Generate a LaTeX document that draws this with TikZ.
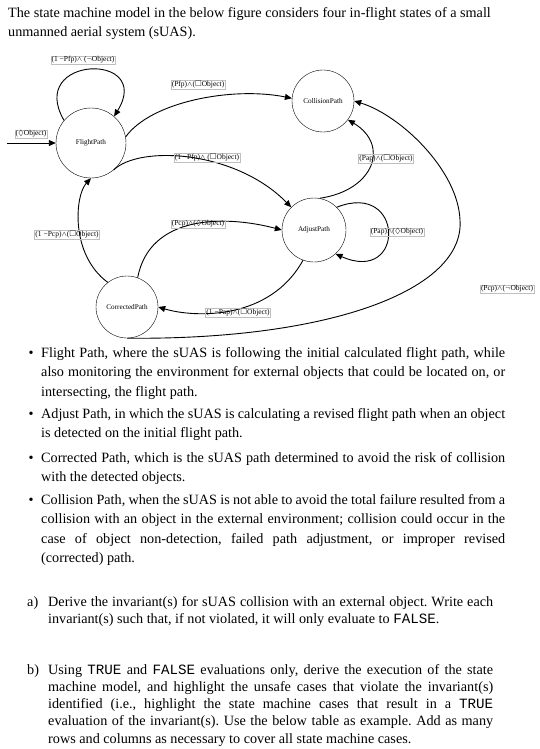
\documentclass[tikz,border=0pt]{standalone}
\usepackage{fontspec}
\usepackage{amssymb}
\setmainfont{Liberation Serif}
\setmonofont{Liberation Mono}
\usetikzlibrary{arrows.meta}
\frenchspacing

\tikzset{
	state/.style={draw, circle, line width=0.4pt, minimum size=63pt, inner sep=0pt, font=\fontsize{7.2}{8}\selectfont},
	trans/.style={line width=0.9pt, -{Triangle[length=7pt, width=6pt]}},
	cond/.style={draw=black!25, line width=0.3pt, inner sep=0.8pt, font=\fontsize{7.5}{8}\selectfont},
	para/.style={anchor=north west, inner sep=0pt, align=justify, font=\fontsize{14.2}{19.2}\selectfont},
	task/.style={anchor=north west, inner sep=0pt, align=justify, text width=445pt, font=\fontsize{14.2}{17.2}\selectfont},
}

\begin{document}
\begin{tikzpicture}[x=1pt, y=-1pt]
	\useasboundingbox (0,0) rectangle (540,749);

	% intro
	\node[para, align=left] (intro) at (8,7) {The state machine model in the below figure considers four in-flight states of a small\\unmanned aerial system (sUAS).};

	% states
	\node[state, minimum size=70pt] (fp) at (91,143) {FlightPath};
	\node[state, minimum size=62pt] (col) at (323,101) {CollisionPath};
	\node[state, minimum size=64pt] (adj) at (314,230) {AdjustPath};
	\node[state, minimum size=62pt] (cor) at (127,307) {CorrectedPath};
	\coordinate (entry) at (7,143);
	\coordinate (bend) at (460,220);

	% transitions
	\draw[trans] (entry) -- (fp.west);
	\draw[trans] (fp.140) .. controls +(-38,-65) and +(40,-65) .. (fp.49);
	\draw[trans] (fp.10) .. controls +(25,-35) and +(-60,-12) .. (col.175);
	\draw[trans] (fp.-50) .. controls +(26,-25) and +(-56,-57) .. (adj.135);
	\draw[trans] (adj.80) .. controls +(55,-8) and +(42,25) .. (col.-37);
	\draw[trans] (adj.45) .. controls +(68,-27) and +(70,31) .. (adj.-48);
	\draw[trans] (cor.70) .. controls +(12,-63) and +(-57,-15) .. (adj.180);
	\draw[trans] (cor.128) .. controls +(-38,-28) and +(-16,17) .. (fp.south);
	\draw[trans] (adj.-110) .. controls +(-33,60) and +(37,11) .. (cor.east);
	\draw[trans] (cor.south) .. controls +(203,2) and +(5,70) .. (bend)
		.. controls +(-2,-50) and +(46,14) .. (col.east);

	% conditions
	\node[cond] (c-fpfp) at (83,60) {(1 −Pfp)$\wedge$ ($\neg$Object)};
	\node[cond] (c-init) at (31,134) {($\lozenge$Object)};
	\node[cond] (c-fpcol) at (198,85) {(Pfp)$\wedge$($\square$Object)};
	\node[cond] (c-fpadj) at (207,158) {(1 −Pfp)$\wedge$ ($\square$Object)};
	\node[cond] (c-adjcol) at (386,159) {(Pap)$\wedge$($\square$Object)};
	\node[cond] (c-adjadj) at (397,232) {(Pap)$\wedge$($\lozenge$Object)};
	\node[cond] (c-coradj) at (198,224) {(Pcp)$\wedge$($\lozenge$Object)};
	\node[cond] (c-corfp) at (67,235) {(1 −Pcp)$\wedge$($\square$Object)};
	\node[cond] (c-adjcor) at (238,313) {(1 −Pap)$\wedge$($\square$Object)};
	\node[cond] (c-corcol) at (507,289) {(Pcp)$\wedge$($\neg$Object)};

	% state descriptions
	\node[para, text width=464pt] (d-fp) at (41,347.5) {\makebox[0pt][r]{\textbullet\hspace{7.5pt}}Flight Path, where the sUAS is following the initial calculated flight path, while \linebreak also monitoring the environment for external objects that could be located on, or \linebreak intersecting, the flight path.};
	\node[para, text width=464pt] (d-adj) at (41,408) {\makebox[0pt][r]{\textbullet\hspace{7.5pt}}Adjust Path, in which the sUAS is calculating a revised flight path when an object \linebreak is detected on the initial flight path.};
	\node[para, text width=464pt] (d-cor) at (41,452.5) {\makebox[0pt][r]{\textbullet\hspace{7.5pt}}Corrected Path, which is the sUAS path determined to avoid the risk of collision \linebreak with the detected objects.};
	\node[para, text width=464pt] (d-col) at (41,494.5) {\makebox[0pt][r]{\textbullet\hspace{7.5pt}}Collision Path, when the sUAS is not able to avoid the total failure resulted from a \linebreak collision with an object in the external environment; collision could occur in the \linebreak case of object non-detection, failed path adjustment, or improper revised \linebreak (corrected) path.};

	% tasks
	\node[task] (t-a) at (48,596) {\makebox[0pt][r]{\makebox[21pt][l]{a)}}Derive the invariant(s) for sUAS collision with an external object. Write each \linebreak invariant(s) such that, if not violated, it will only evaluate to \texttt{FALSE}.};
	\node[task] (t-b) at (48,664) {\makebox[0pt][r]{\makebox[21pt][l]{b)}}Using \texttt{TRUE} and \texttt{FALSE} evaluations only, derive the execution of the state \linebreak machine model, and highlight the unsafe cases that violate the invariant(s) \linebreak identified (i.e., highlight the state machine cases that result in a \texttt{TRUE} \linebreak evaluation of the invariant(s). Use the below table as example. Add as many \linebreak rows and columns as necessary to cover all state machine cases.};
\end{tikzpicture}
\end{document}
